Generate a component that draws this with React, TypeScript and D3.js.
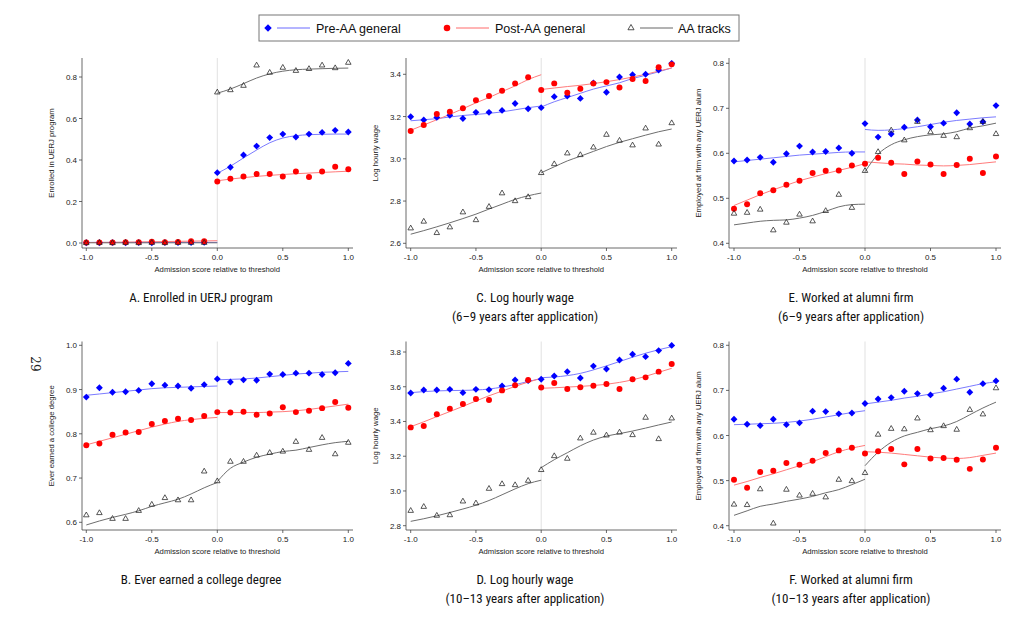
import * as d3 from "d3";

// bin midpoints of the admission score
const xs = [-1.0, -0.9, -0.8, -0.7, -0.6, -0.5, -0.4, -0.3, -0.2, -0.1, 0.0, 0.1, 0.2, 0.3, 0.4, 0.5, 0.6, 0.7, 0.8, 0.9, 1.0];
// fitted curves: 11 points left of threshold, then 11 points right of it
const fitXs = [-1.0, -0.9, -0.8, -0.7, -0.6, -0.5, -0.4, -0.3, -0.2, -0.1, 0.0, 0.0, 0.1, 0.2, 0.3, 0.4, 0.5, 0.6, 0.7, 0.8, 0.9, 1.0];
const xTicks = [-1.0, -0.5, 0.0, 0.5, 1.0];

// A. Enrolled in UERJ program
const aPre = [0.001, 0.001, 0.002, 0.001, 0.002, 0.001, 0.002, 0.002, 0.002, 0.003, 0.339, 0.365, 0.424, 0.467, 0.508, 0.525, 0.511, 0.525, 0.533, 0.543, 0.535];
const aPost = [0.002, 0.003, 0.003, 0.004, 0.004, 0.006, 0.004, 0.005, 0.009, 0.008, 0.296, 0.310, 0.320, 0.333, 0.333, 0.320, 0.345, 0.318, 0.345, 0.368, 0.355];
const aAA = [0.000, 0.001, 0.000, 0.001, 0.000, 0.001, 0.000, 0.001, 0.001, 0.001, 0.726, 0.737, 0.758, 0.856, 0.821, 0.845, 0.830, 0.839, 0.856, 0.843, 0.869];
const aPreFit = [0.003, 0.003, 0.003, 0.003, 0.003, 0.003, 0.003, 0.003, 0.003, 0.003, 0.003, 0.336, 0.370, 0.410, 0.448, 0.483, 0.506, 0.517, 0.522, 0.524, 0.525, 0.525];
const aPostFit = [0.002, 0.003, 0.003, 0.004, 0.005, 0.006, 0.007, 0.008, 0.009, 0.010, 0.011, 0.300, 0.308, 0.315, 0.321, 0.326, 0.330, 0.334, 0.337, 0.340, 0.343, 0.346];
const aAAFit = [0.001, 0.001, 0.001, 0.001, 0.001, 0.001, 0.001, 0.001, 0.001, 0.001, 0.001, 0.722, 0.742, 0.768, 0.795, 0.815, 0.828, 0.835, 0.838, 0.840, 0.842, 0.843];
const aTicks = [0.0, 0.2, 0.4, 0.6, 0.8];

// B. Ever earned a college degree
const bPre = [0.883, 0.904, 0.894, 0.895, 0.898, 0.913, 0.910, 0.908, 0.903, 0.911, 0.924, 0.917, 0.922, 0.921, 0.935, 0.934, 0.937, 0.937, 0.934, 0.938, 0.959];
const bPost = [0.774, 0.778, 0.798, 0.803, 0.804, 0.822, 0.829, 0.834, 0.831, 0.840, 0.849, 0.848, 0.850, 0.843, 0.846, 0.860, 0.849, 0.852, 0.858, 0.872, 0.859];
const bAA = [0.616, 0.621, 0.608, 0.608, 0.626, 0.640, 0.655, 0.650, 0.650, 0.715, 0.693, 0.737, 0.737, 0.751, 0.757, 0.760, 0.782, 0.764, 0.791, 0.754, 0.780];
const bPreFit = [0.887, 0.890, 0.893, 0.896, 0.899, 0.902, 0.904, 0.905, 0.906, 0.907, 0.908, 0.922, 0.923, 0.924, 0.926, 0.929, 0.932, 0.935, 0.937, 0.939, 0.940, 0.941];
const bPostFit = [0.775, 0.783, 0.791, 0.799, 0.807, 0.815, 0.822, 0.828, 0.832, 0.835, 0.837, 0.848, 0.848, 0.848, 0.848, 0.849, 0.850, 0.852, 0.855, 0.859, 0.863, 0.867];
const bAAFit = [0.594, 0.603, 0.611, 0.618, 0.626, 0.636, 0.644, 0.652, 0.664, 0.678, 0.690, 0.692, 0.722, 0.736, 0.747, 0.754, 0.760, 0.763, 0.769, 0.775, 0.780, 0.783];
const bTicks = [0.6, 0.7, 0.8, 0.9, 1.0];

// C. Log hourly wage, 6-9 years
const cPre = [3.199, 3.184, 3.196, 3.206, 3.191, 3.220, 3.220, 3.229, 3.262, 3.237, 3.242, 3.294, 3.297, 3.286, 3.359, 3.315, 3.387, 3.398, 3.400, 3.420, 3.452];
const cPost = [3.132, 3.160, 3.212, 3.223, 3.239, 3.277, 3.297, 3.322, 3.357, 3.386, 3.326, 3.357, 3.313, 3.332, 3.357, 3.363, 3.338, 3.378, 3.368, 3.433, 3.447];
const cAA = [2.671, 2.703, 2.649, 2.676, 2.747, 2.710, 2.773, 2.837, 2.800, 2.819, 2.933, 2.975, 3.026, 3.018, 3.054, 3.114, 3.086, 3.064, 3.144, 3.068, 3.169];
const cPreFit = [3.180, 3.185, 3.190, 3.198, 3.205, 3.210, 3.215, 3.222, 3.232, 3.242, 3.250, 3.245, 3.270, 3.290, 3.310, 3.330, 3.345, 3.360, 3.380, 3.395, 3.412, 3.430];
const cPostFit = [3.135, 3.160, 3.185, 3.210, 3.237, 3.265, 3.290, 3.318, 3.345, 3.375, 3.398, 3.328, 3.335, 3.342, 3.348, 3.356, 3.365, 3.375, 3.387, 3.400, 3.415, 3.430];
const cAAFit = [2.643, 2.660, 2.678, 2.697, 2.717, 2.738, 2.762, 2.785, 2.808, 2.825, 2.838, 2.934, 2.962, 2.990, 3.012, 3.035, 3.058, 3.078, 3.095, 3.112, 3.128, 3.141];
const cTicks = [2.6, 2.8, 3.0, 3.2, 3.4];

// D. Log hourly wage, 10-13 years
const dPre = [3.564, 3.581, 3.581, 3.585, 3.566, 3.585, 3.583, 3.604, 3.639, 3.635, 3.643, 3.662, 3.687, 3.650, 3.719, 3.702, 3.754, 3.787, 3.773, 3.808, 3.838];
const dPost = [3.366, 3.374, 3.441, 3.474, 3.501, 3.529, 3.524, 3.579, 3.608, 3.639, 3.595, 3.622, 3.587, 3.597, 3.606, 3.616, 3.587, 3.643, 3.654, 3.687, 3.731];
const dAA = [2.886, 2.909, 2.858, 2.861, 2.940, 2.929, 3.013, 3.040, 3.034, 3.059, 3.121, 3.201, 3.186, 3.303, 3.336, 3.320, 3.337, 3.322, 3.422, 3.299, 3.418];
const dPreFit = [3.566, 3.572, 3.576, 3.578, 3.579, 3.581, 3.587, 3.598, 3.612, 3.630, 3.648, 3.652, 3.656, 3.664, 3.677, 3.697, 3.720, 3.745, 3.770, 3.793, 3.813, 3.831];
const dPostFit = [3.370, 3.398, 3.428, 3.457, 3.487, 3.518, 3.548, 3.575, 3.602, 3.627, 3.648, 3.591, 3.594, 3.598, 3.602, 3.607, 3.614, 3.625, 3.640, 3.660, 3.683, 3.706];
const dAAFit = [2.825, 2.840, 2.857, 2.876, 2.896, 2.918, 2.945, 2.978, 3.012, 3.042, 3.062, 3.134, 3.180, 3.220, 3.260, 3.293, 3.316, 3.330, 3.345, 3.362, 3.380, 3.397];
const dTicks = [2.8, 3.0, 3.2, 3.4, 3.6, 3.8];

// E. Worked at alumni firm, 6-9 years
const ePre = [0.583, 0.585, 0.591, 0.580, 0.599, 0.616, 0.603, 0.604, 0.612, 0.600, 0.666, 0.636, 0.643, 0.658, 0.674, 0.659, 0.667, 0.690, 0.665, 0.670, 0.706];
const ePost = [0.477, 0.487, 0.511, 0.518, 0.530, 0.539, 0.556, 0.561, 0.562, 0.573, 0.577, 0.590, 0.579, 0.554, 0.582, 0.575, 0.554, 0.574, 0.588, 0.556, 0.593];
const eAA = [0.466, 0.468, 0.475, 0.429, 0.446, 0.464, 0.449, 0.472, 0.508, 0.479, 0.561, 0.603, 0.651, 0.629, 0.670, 0.647, 0.639, 0.636, 0.656, 0.670, 0.643];
const ePreFit = [0.581, 0.584, 0.587, 0.590, 0.593, 0.596, 0.598, 0.600, 0.602, 0.603, 0.603, 0.653, 0.651, 0.652, 0.655, 0.659, 0.664, 0.669, 0.673, 0.676, 0.679, 0.681];
const ePostFit = [0.484, 0.496, 0.508, 0.519, 0.529, 0.539, 0.547, 0.555, 0.562, 0.569, 0.577, 0.581, 0.579, 0.577, 0.576, 0.574, 0.573, 0.572, 0.573, 0.575, 0.578, 0.581];
const eAAFit = [0.441, 0.445, 0.449, 0.451, 0.452, 0.456, 0.462, 0.471, 0.481, 0.486, 0.487, 0.559, 0.598, 0.619, 0.630, 0.637, 0.641, 0.643, 0.648, 0.656, 0.661, 0.667];
const eTicks = [0.4, 0.5, 0.6, 0.7, 0.8];

// F. Worked at alumni firm, 10-13 years
const fPre = [0.636, 0.625, 0.622, 0.636, 0.624, 0.628, 0.654, 0.653, 0.648, 0.650, 0.671, 0.681, 0.684, 0.698, 0.693, 0.690, 0.705, 0.725, 0.696, 0.715, 0.721];
const fPost = [0.502, 0.484, 0.519, 0.522, 0.539, 0.535, 0.544, 0.561, 0.567, 0.573, 0.560, 0.565, 0.570, 0.536, 0.570, 0.549, 0.550, 0.546, 0.526, 0.547, 0.573];
const fAA = [0.447, 0.446, 0.481, 0.405, 0.480, 0.467, 0.471, 0.463, 0.502, 0.499, 0.517, 0.602, 0.615, 0.614, 0.638, 0.612, 0.621, 0.613, 0.657, 0.647, 0.705];
const fPreFit = [0.624, 0.625, 0.626, 0.627, 0.629, 0.632, 0.636, 0.641, 0.646, 0.651, 0.655, 0.670, 0.674, 0.678, 0.683, 0.687, 0.692, 0.697, 0.703, 0.709, 0.715, 0.719];
const fPostFit = [0.490, 0.498, 0.507, 0.515, 0.524, 0.533, 0.542, 0.553, 0.564, 0.572, 0.578, 0.564, 0.563, 0.561, 0.558, 0.555, 0.552, 0.550, 0.549, 0.551, 0.556, 0.561];
const fAAFit = [0.423, 0.433, 0.443, 0.448, 0.454, 0.459, 0.465, 0.473, 0.480, 0.491, 0.503, 0.533, 0.563, 0.585, 0.599, 0.607, 0.615, 0.621, 0.631, 0.646, 0.661, 0.674];
const fTicks = [0.4, 0.5, 0.6, 0.7, 0.8];

const legendLabels = ["Pre-AA general", "Post-AA general", "AA tracks"];

const W = 1024;
const H = 619;
const AXIS_FONT = "'Liberation Sans', Arial, Helvetica, sans-serif";
const TITLE_FONT = "'Liberation Sans Narrow', 'Roboto Condensed', Roboto, 'Liberation Sans', sans-serif";

const PRE = { mark: "#0000ff", line: "#7b7bff" };
const POST = { mark: "#ff0000", line: "#ff7b7b" };
const AA = { mark: "#222222", line: "#6e6e6e" };

// frame of each graph in page pixels
type Frame = { axisX: number; xL: number; xR: number; xEnd: number; top: number; bottom: number; yLo: number; yHi: number; titleX: number; titleY: number };

const col1 = { axisX: 82, xL: 86.3, xR: 348.3, xEnd: 353, titleX: 201 };
const col2 = { axisX: 406, xL: 410.7, xR: 671.7, xEnd: 677, titleX: 525 };
const col3 = { axisX: 729, xL: 734, xR: 996, xEnd: 1001, titleX: 851 };

interface Panel {
  title: string[];
  yLabel: string;
  ticks: number[];
  pre: number[]; post: number[]; aa: number[];
  preFit: number[]; postFit: number[]; aaFit: number[];
  frame: Frame;
}

const panels: Panel[] = [
  { title: ["A. Enrolled in UERJ program"], yLabel: "Enrolled in UERJ program", ticks: aTicks,
    pre: aPre, post: aPost, aa: aAA, preFit: aPreFit, postFit: aPostFit, aaFit: aAAFit,
    frame: { ...col1, top: 58, bottom: 248, yLo: 243, yHi: 77, titleY: 302 } },
  { title: ["B. Ever earned a college degree"], yLabel: "Ever earned a college degree", ticks: bTicks,
    pre: bPre, post: bPost, aa: bAA, preFit: bPreFit, postFit: bPostFit, aaFit: bAAFit,
    frame: { ...col1, top: 341.5, bottom: 530, yLo: 522.3, yHi: 345.3, titleY: 584 } },
  { title: ["C. Log hourly wage", "(6–9 years after application)"], yLabel: "Log hourly wage", ticks: cTicks,
    pre: cPre, post: cPost, aa: cAA, preFit: cPreFit, postFit: cPostFit, aaFit: cAAFit,
    frame: { ...col2, top: 58, bottom: 248, yLo: 243.3, yHi: 74.3, titleY: 302 } },
  { title: ["D. Log hourly wage", "(10–13 years after application)"], yLabel: "Log hourly wage", ticks: dTicks,
    pre: dPre, post: dPost, aa: dAA, preFit: dPreFit, postFit: dPostFit, aaFit: dAAFit,
    frame: { ...col2, top: 341.5, bottom: 530, yLo: 525.7, yHi: 352, titleY: 584 } },
  { title: ["E. Worked at alumni firm", "(6–9 years after application)"], yLabel: "Employed at firm with any UERJ alum", ticks: eTicks,
    pre: ePre, post: ePost, aa: eAA, preFit: ePreFit, postFit: ePostFit, aaFit: eAAFit,
    frame: { ...col3, top: 58, bottom: 248, yLo: 243.3, yHi: 63.3, titleY: 302 } },
  { title: ["F. Worked at alumni firm", "(10–13 years after application)"], yLabel: "Employed at firm with any UERJ alum", ticks: fTicks,
    pre: fPre, post: fPost, aa: fAA, preFit: fPreFit, postFit: fPostFit, aaFit: fAAFit,
    frame: { ...col3, top: 341.5, bottom: 530, yLo: 525.7, yHi: 345.3, titleY: 584 } },
];

const diamond = d3.symbol(d3.symbolDiamond2, 30)()!;
const circle = d3.symbol(d3.symbolCircle, 28)()!;
const triangle = d3.symbol(d3.symbolTriangle2, 22)()!;

function Graph({ p }: { p: Panel }) {
  const f = p.frame;
  const x = d3.scaleLinear().domain([-1, 1]).range([f.xL, f.xR]);
  const y = d3.scaleLinear().domain([p.ticks[0], p.ticks[p.ticks.length - 1]]).range([f.yLo, f.yHi]);
  const line = d3.line<number>().x((_, i) => x(fitXs.slice(0, 11)[i])).y(v => y(v)).curve(d3.curveMonotoneX);
  const lineR = d3.line<number>().x((_, i) => x(fitXs.slice(11)[i])).y(v => y(v)).curve(d3.curveMonotoneX);
  const fits: [number[], string][] = [[p.preFit, PRE.line], [p.postFit, POST.line], [p.aaFit, AA.line]];
  const midY = (f.top + f.bottom) / 2;
  return (
    <g>
      <line x1={x(0)} x2={x(0)} y1={f.top} y2={f.bottom} stroke="#d9d9d9" strokeWidth={0.8} />
      {/* axes */}
      <line x1={f.axisX} x2={f.axisX} y1={f.top} y2={f.bottom} stroke="#444" strokeWidth={0.8} />
      <line x1={f.axisX} x2={f.xEnd} y1={f.bottom} y2={f.bottom} stroke="#444" strokeWidth={0.8} />
      {p.ticks.map(t => (
        <g key={t}>
          <line x1={f.axisX - 3} x2={f.axisX} y1={y(t)} y2={y(t)} stroke="#444" strokeWidth={0.8} />
          <text x={f.axisX - 5} y={y(t) + 3} textAnchor="end" fontSize={8} fontFamily={AXIS_FONT} fill="#222">{t.toFixed(1)}</text>
        </g>
      ))}
      {xTicks.map(t => (
        <g key={t}>
          <line x1={x(t)} x2={x(t)} y1={f.bottom} y2={f.bottom + 3} stroke="#444" strokeWidth={0.8} />
          <text x={x(t)} y={f.bottom + 11.5} textAnchor="middle" fontSize={8} fontFamily={AXIS_FONT} fill="#222">{t.toFixed(1)}</text>
        </g>
      ))}
      <text x={x(0)} y={f.bottom + 24} textAnchor="middle" fontSize={7.7} fontFamily={AXIS_FONT} fill="#222">Admission score relative to threshold</text>
      <text transform={`translate(${f.axisX - 28},${midY}) rotate(-90)`} textAnchor="middle" fontSize={7.7} fontFamily={AXIS_FONT} fill="#222">{p.yLabel}</text>
      {/* fitted curves, separately on each side */}
      {fits.map(([vals, c], i) => (
        <g key={i}>
          <path d={line(vals.slice(0, 11)) ?? ""} fill="none" stroke={c} strokeWidth={1} />
          <path d={lineR(vals.slice(11)) ?? ""} fill="none" stroke={c} strokeWidth={1} />
        </g>
      ))}
      {/* binned means */}
      {p.pre.map((v, i) => (
        <path key={"p" + i} d={diamond} transform={`translate(${x(xs[i])},${y(v)})`} fill={PRE.mark} />
      ))}
      {p.post.map((v, i) => (
        <path key={"q" + i} d={circle} transform={`translate(${x(xs[i])},${y(v)})`} fill={POST.mark} />
      ))}
      {p.aa.map((v, i) => (
        <path key={"a" + i} d={triangle} transform={`translate(${x(xs[i])},${y(v)})`} fill="none" stroke={AA.mark} strokeWidth={0.75} />
      ))}
      {p.title.map((t, i) => (
        <text key={t} x={f.titleX} y={f.titleY + i * 18.5} textAnchor="middle" fontSize={13} fontFamily={TITLE_FONT} fill="#111">{t}</text>
      ))}
    </g>
  );
}

function Legend() {
  const keys = [
    { label: legendLabels[0], d: diamond, fill: PRE.mark, stroke: "none", line: "#5a5aff", mx: 268, lx: 277, tx: 316 },
    { label: legendLabels[1], d: circle, fill: POST.mark, stroke: "none", line: "#ff5a5a", mx: 447, lx: 456, tx: 495 },
    { label: legendLabels[2], d: triangle, fill: "none", stroke: AA.mark, line: "#555", mx: 631, lx: 640, tx: 678 },
  ];
  return (
    <g>
      <rect x={259} y={15} width={480} height={26} fill="#fff" stroke="#777" strokeWidth={1} />
      {keys.map(k => (
        <g key={k.label}>
          <path d={k.d} transform={`translate(${k.mx},28) scale(1.1)`} fill={k.fill} stroke={k.stroke} strokeWidth={0.7} />
          <line x1={k.lx} x2={k.lx + 33} y1={28} y2={28} stroke={k.line} strokeWidth={0.9} />
          <text x={k.tx} y={32.5} fontSize={12.5} fontFamily={AXIS_FONT} fill="#111">{k.label}</text>
        </g>
      ))}
    </g>
  );
}

export default function App() {
  return (
    <div style={{ position: "absolute", left: 0, top: 0, width: W, height: H, background: "#fff" }}>
      <svg width={W} height={H} viewBox={`0 0 ${W} ${H}`} style={{ display: "block" }}>
        <rect width={W} height={H} fill="#fff" />
        <Legend />
        {panels.map((p, i) => <Graph key={i} p={p} />)}
        <text transform="translate(31,364) rotate(90)" textAnchor="middle" fontSize={12} fontFamily="'DejaVu Serif', 'Liberation Serif', serif" fill="#222">29</text>
      </svg>
    </div>
  );
}
